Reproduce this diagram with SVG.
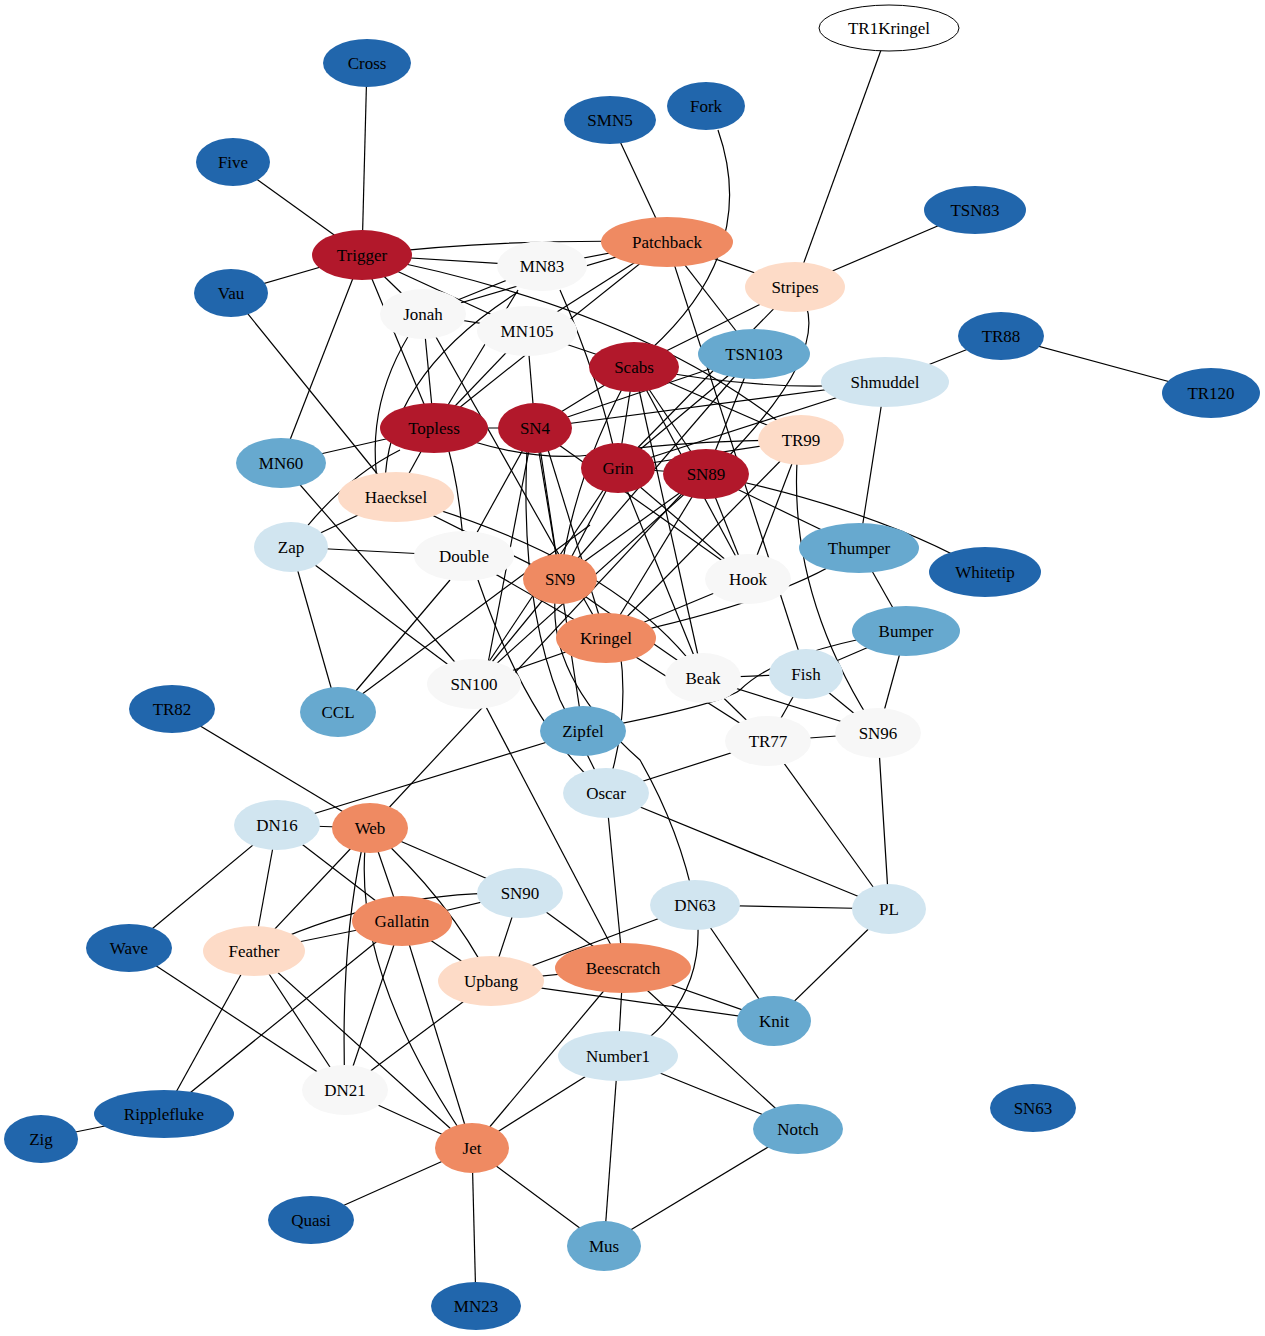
<svg xmlns="http://www.w3.org/2000/svg" width="1265" height="1336" viewBox="0 0 1265 1336">
<style>
.e line,.e path{stroke:#000;stroke-width:1.2;fill:none}
text{font-family:"Liberation Serif",serif;font-size:17px;text-anchor:middle;dominant-baseline:central;fill:#000}
.r{fill:#b2182b}.s{fill:#ef8a62}.p{fill:#fddbc7}.w{fill:#f7f7f7}.l{fill:#d1e5f0}.m{fill:#67a9cf}.d{fill:#2166ac}
</style>
<rect width="1265" height="1336" fill="#fff"/>
<g id="edges" class="e">
<line x1="367" y1="63" x2="362" y2="255"/><line x1="233" y1="162" x2="362" y2="255"/><line x1="231" y1="293" x2="362" y2="255"/>
<line x1="231" y1="293" x2="396" y2="497"/><line x1="610" y1="120" x2="667" y2="242"/>
<path d="M718,130 Q760,250 650,350"/>
<line x1="889" y1="28" x2="795" y2="287"/><line x1="975" y1="210" x2="795" y2="287"/>
<line x1="1001" y1="336" x2="885" y2="382"/><line x1="1001" y1="336" x2="1211" y2="393"/>
<path d="M362,255 Q500,238 667,242"/><line x1="362" y1="255" x2="542" y2="266"/><line x1="362" y1="255" x2="423" y2="314"/>
<line x1="362" y1="255" x2="527" y2="331"/><path d="M362,255 Q650,310 801,440"/>
<line x1="362" y1="255" x2="281" y2="463"/><line x1="362" y1="255" x2="434" y2="428"/>
<path d="M423,314 Q360,400 380,497"/><path d="M518,292 Q380,380 385,497"/><line x1="518" y1="290" x2="434" y2="428"/>
<line x1="423" y1="314" x2="434" y2="428"/><line x1="423" y1="314" x2="542" y2="266"/><line x1="423" y1="314" x2="667" y2="242"/>
<line x1="423" y1="314" x2="527" y2="331"/><line x1="423" y1="314" x2="606" y2="638"/>
<line x1="542" y1="266" x2="667" y2="242"/><path d="M560,290 Q600,380 618,468"/>
<line x1="527" y1="331" x2="667" y2="242"/><line x1="527" y1="331" x2="634" y2="367"/><line x1="527" y1="331" x2="535" y2="428"/><line x1="527" y1="331" x2="434" y2="428"/>
<line x1="667" y1="242" x2="434" y2="428"/><line x1="667" y1="242" x2="795" y2="287"/><line x1="667" y1="242" x2="754" y2="354"/><line x1="667" y1="242" x2="806" y2="674"/>
<line x1="795" y1="287" x2="634" y2="367"/><line x1="795" y1="287" x2="618" y2="468"/><path d="M806,305 Q825,360 720,465"/>
<line x1="634" y1="367" x2="535" y2="428"/><line x1="634" y1="367" x2="618" y2="468"/><path d="M634,367 Q575,470 560,579"/>
<line x1="634" y1="367" x2="706" y2="474"/><line x1="634" y1="367" x2="801" y2="440"/><path d="M634,367 Q780,395 885,382"/>
<line x1="634" y1="367" x2="748" y2="579"/><line x1="634" y1="367" x2="703" y2="678"/>
<line x1="754" y1="354" x2="535" y2="428"/><line x1="754" y1="354" x2="618" y2="468"/><line x1="754" y1="354" x2="706" y2="474"/><line x1="754" y1="354" x2="560" y2="579"/>
<line x1="885" y1="382" x2="535" y2="428"/><line x1="885" y1="382" x2="618" y2="468"/><line x1="885" y1="382" x2="859" y2="548"/>
<path d="M434,428 Q540,470 620,450 Q700,440 801,440"/><line x1="618" y1="468" x2="801" y2="440"/>
<line x1="801" y1="440" x2="748" y2="579"/><line x1="801" y1="440" x2="606" y2="638"/><path d="M797,462 Q790,600 878,733"/>
<line x1="618" y1="468" x2="706" y2="474"/><line x1="706" y1="474" x2="748" y2="579"/><line x1="706" y1="474" x2="859" y2="548"/>
<path d="M706,474 Q880,510 985,572"/><line x1="706" y1="474" x2="606" y2="638"/><line x1="700" y1="480" x2="474" y2="684"/>
<line x1="690" y1="485" x2="370" y2="828"/><line x1="706" y1="474" x2="560" y2="579"/>
<line x1="618" y1="468" x2="560" y2="579"/><line x1="618" y1="468" x2="703" y2="678"/><line x1="618" y1="468" x2="748" y2="579"/><line x1="618" y1="468" x2="474" y2="684"/>
<line x1="590" y1="525" x2="338" y2="712"/>
<line x1="535" y1="428" x2="434" y2="428"/><line x1="535" y1="428" x2="464" y2="556"/><line x1="530" y1="445" x2="484" y2="684"/>
<line x1="540" y1="448" x2="583" y2="731"/><path d="M527,450 Q520,600 560,700 Q590,760 606,793"/><line x1="535" y1="428" x2="560" y2="579"/>
<line x1="535" y1="428" x2="748" y2="579"/><line x1="545" y1="440" x2="606" y2="638"/>
<path d="M555,600 Q550,680 640,760 Q680,830 695,905"/>
<line x1="434" y1="428" x2="281" y2="463"/><line x1="434" y1="428" x2="396" y2="497"/><path d="M400,450 Q340,480 291,547"/><path d="M442,428 Q460,480 464,556"/>
<line x1="396" y1="497" x2="291" y2="547"/><line x1="396" y1="497" x2="560" y2="579"/><path d="M396,497 Q620,560 703,678"/>
<line x1="281" y1="463" x2="474" y2="684"/>
<line x1="291" y1="547" x2="464" y2="556"/><line x1="291" y1="547" x2="474" y2="684"/><line x1="291" y1="547" x2="338" y2="712"/>
<line x1="450" y1="580" x2="338" y2="712"/><line x1="464" y1="556" x2="606" y2="638"/><path d="M478,580 Q530,730 606,793"/>
<line x1="474" y1="684" x2="623" y2="968"/><line x1="560" y1="579" x2="474" y2="684"/><line x1="560" y1="579" x2="703" y2="678"/>
<line x1="606" y1="638" x2="474" y2="684"/><line x1="606" y1="638" x2="748" y2="579"/><path d="M606,638 Q790,600 859,548"/>
<line x1="606" y1="638" x2="768" y2="741"/><path d="M620,650 Q630,720 606,793"/>
<line x1="703" y1="678" x2="806" y2="674"/><line x1="703" y1="678" x2="878" y2="733"/><line x1="703" y1="678" x2="768" y2="741"/>
<line x1="806" y1="674" x2="906" y2="631"/><line x1="806" y1="674" x2="878" y2="733"/><line x1="806" y1="674" x2="768" y2="741"/>
<line x1="859" y1="548" x2="906" y2="631"/><line x1="906" y1="631" x2="878" y2="733"/>
<path d="M583,731 Q720,705 740,690 Q780,650 906,631"/>
<line x1="768" y1="741" x2="878" y2="733"/><line x1="768" y1="741" x2="606" y2="793"/><line x1="768" y1="741" x2="889" y2="909"/>
<line x1="878" y1="733" x2="889" y2="909"/><line x1="606" y1="793" x2="889" y2="909"/><line x1="606" y1="793" x2="623" y2="968"/>
<line x1="583" y1="731" x2="277" y2="825"/><line x1="172" y1="709" x2="370" y2="828"/>
<line x1="277" y1="825" x2="370" y2="828"/><line x1="277" y1="825" x2="129" y2="948"/><line x1="277" y1="825" x2="254" y2="951"/><line x1="277" y1="825" x2="402" y2="921"/>
<line x1="370" y1="828" x2="254" y2="951"/><line x1="370" y1="828" x2="402" y2="921"/><line x1="370" y1="828" x2="520" y2="893"/><path d="M370,828 Q450,900 491,981"/>
<path d="M362,848 Q340,950 345,1090"/><path d="M365,848 Q355,980 472,1148"/>
<path d="M520,893 Q380,890 254,951"/><line x1="520" y1="893" x2="402" y2="921"/><line x1="520" y1="893" x2="491" y2="981"/><line x1="520" y1="893" x2="623" y2="968"/>
<line x1="254" y1="951" x2="402" y2="921"/><line x1="254" y1="951" x2="164" y2="1114"/><line x1="254" y1="951" x2="345" y2="1090"/><line x1="254" y1="951" x2="472" y2="1148"/>
<line x1="402" y1="921" x2="164" y2="1114"/><line x1="402" y1="921" x2="491" y2="981"/><line x1="402" y1="921" x2="345" y2="1090"/><line x1="402" y1="921" x2="472" y2="1148"/>
<line x1="129" y1="948" x2="345" y2="1090"/><line x1="491" y1="981" x2="345" y2="1090"/><line x1="491" y1="981" x2="623" y2="968"/>
<line x1="491" y1="981" x2="774" y2="1021"/><line x1="491" y1="981" x2="695" y2="905"/>
<line x1="623" y1="968" x2="774" y2="1021"/><line x1="623" y1="968" x2="472" y2="1148"/><line x1="623" y1="968" x2="618" y2="1056"/><line x1="623" y1="968" x2="798" y2="1129"/>
<line x1="695" y1="905" x2="889" y2="909"/><line x1="695" y1="905" x2="774" y2="1021"/><path d="M698,928 Q700,1000 640,1045"/>
<line x1="618" y1="1056" x2="472" y2="1148"/><line x1="618" y1="1056" x2="798" y2="1129"/><line x1="618" y1="1056" x2="604" y2="1246"/>
<line x1="798" y1="1129" x2="604" y2="1246"/><line x1="472" y1="1148" x2="345" y2="1090"/><line x1="472" y1="1148" x2="311" y2="1220"/>
<line x1="472" y1="1148" x2="476" y2="1306"/><line x1="472" y1="1148" x2="604" y2="1246"/><line x1="889" y1="909" x2="774" y2="1021"/>
<line x1="41" y1="1139" x2="164" y2="1114"/>
</g>
<g id="TR1Kringel"><ellipse cx="889" cy="28" rx="70" ry="23" fill="#fff" stroke="#000"/><text x="889" y="28">TR1Kringel</text></g>
<g id="Cross"><ellipse class="d" cx="367" cy="63" rx="44" ry="24"/><text x="367" y="63">Cross</text></g>
<g id="Fork"><ellipse class="d" cx="706" cy="106" rx="39" ry="24"/><text x="706" y="106">Fork</text></g>
<g id="SMN5"><ellipse class="d" cx="610" cy="120" rx="46" ry="24"/><text x="610" y="120">SMN5</text></g>
<g id="Five"><ellipse class="d" cx="233" cy="162" rx="37" ry="24"/><text x="233" y="162">Five</text></g>
<g id="TSN83"><ellipse class="d" cx="975" cy="210" rx="51" ry="24"/><text x="975" y="210">TSN83</text></g>
<g id="Trigger"><ellipse class="r" cx="362" cy="255" rx="50" ry="25"/><text x="362" y="255">Trigger</text></g>
<g id="Patchback"><ellipse class="s" cx="667" cy="242" rx="66" ry="25"/><text x="667" y="242">Patchback</text></g>
<g id="MN83"><ellipse class="w" cx="542" cy="266" rx="45" ry="25"/><text x="542" y="266">MN83</text></g>
<g id="Vau"><ellipse class="d" cx="231" cy="293" rx="37" ry="24"/><text x="231" y="293">Vau</text></g>
<g id="Stripes"><ellipse class="p" cx="795" cy="287" rx="50" ry="25"/><text x="795" y="287">Stripes</text></g>
<g id="Jonah"><ellipse class="w" cx="423" cy="314" rx="43" ry="25"/><text x="423" y="314">Jonah</text></g>
<g id="MN105"><ellipse class="w" cx="527" cy="331" rx="50" ry="25"/><text x="527" y="331">MN105</text></g>
<g id="TR88"><ellipse class="d" cx="1001" cy="336" rx="43" ry="24"/><text x="1001" y="336">TR88</text></g>
<g id="TSN103"><ellipse class="m" cx="754" cy="354" rx="56" ry="25"/><text x="754" y="354">TSN103</text></g>
<g id="Scabs"><ellipse class="r" cx="634" cy="367" rx="45" ry="25"/><text x="634" y="367">Scabs</text></g>
<g id="Shmuddel"><ellipse class="l" cx="885" cy="382" rx="64" ry="25"/><text x="885" y="382">Shmuddel</text></g>
<g id="TR120"><ellipse class="d" cx="1211" cy="393" rx="49" ry="25"/><text x="1211" y="393">TR120</text></g>
<g id="Topless"><ellipse class="r" cx="434" cy="428" rx="54" ry="25"/><text x="434" y="428">Topless</text></g>
<g id="SN4"><ellipse class="r" cx="535" cy="428" rx="37" ry="25"/><text x="535" y="428">SN4</text></g>
<g id="TR99"><ellipse class="p" cx="801" cy="440" rx="43" ry="25"/><text x="801" y="440">TR99</text></g>
<g id="MN60"><ellipse class="m" cx="281" cy="463" rx="45" ry="25"/><text x="281" y="463">MN60</text></g>
<g id="Grin"><ellipse class="r" cx="618" cy="468" rx="37" ry="25"/><text x="618" y="468">Grin</text></g>
<g id="SN89"><ellipse class="r" cx="706" cy="474" rx="43" ry="25"/><text x="706" y="474">SN89</text></g>
<g id="Haecksel"><ellipse class="p" cx="396" cy="497" rx="58" ry="25"/><text x="396" y="497">Haecksel</text></g>
<g id="Zap"><ellipse class="l" cx="291" cy="547" rx="37" ry="25"/><text x="291" y="547">Zap</text></g>
<g id="Double"><ellipse class="w" cx="464" cy="556" rx="50" ry="25"/><text x="464" y="556">Double</text></g>
<g id="Thumper"><ellipse class="m" cx="859" cy="548" rx="60" ry="25"/><text x="859" y="548">Thumper</text></g>
<g id="Whitetip"><ellipse class="d" cx="985" cy="572" rx="56" ry="25"/><text x="985" y="572">Whitetip</text></g>
<g id="SN9"><ellipse class="s" cx="560" cy="579" rx="37" ry="25"/><text x="560" y="579">SN9</text></g>
<g id="Hook"><ellipse class="w" cx="748" cy="579" rx="43" ry="25"/><text x="748" y="579">Hook</text></g>
<g id="Bumper"><ellipse class="m" cx="906" cy="631" rx="54" ry="25"/><text x="906" y="631">Bumper</text></g>
<g id="Kringel"><ellipse class="s" cx="606" cy="638" rx="50" ry="25"/><text x="606" y="638">Kringel</text></g>
<g id="Fish"><ellipse class="l" cx="806" cy="674" rx="37" ry="25"/><text x="806" y="674">Fish</text></g>
<g id="Beak"><ellipse class="w" cx="703" cy="678" rx="38" ry="25"/><text x="703" y="678">Beak</text></g>
<g id="SN100"><ellipse class="w" cx="474" cy="684" rx="47" ry="25"/><text x="474" y="684">SN100</text></g>
<g id="TR82"><ellipse class="d" cx="172" cy="709" rx="43" ry="24"/><text x="172" y="709">TR82</text></g>
<g id="CCL"><ellipse class="m" cx="338" cy="712" rx="38" ry="25"/><text x="338" y="712">CCL</text></g>
<g id="Zipfel"><ellipse class="m" cx="583" cy="731" rx="43" ry="25"/><text x="583" y="731">Zipfel</text></g>
<g id="SN96"><ellipse class="w" cx="878" cy="733" rx="43" ry="25"/><text x="878" y="733">SN96</text></g>
<g id="TR77"><ellipse class="w" cx="768" cy="741" rx="43" ry="25"/><text x="768" y="741">TR77</text></g>
<g id="Oscar"><ellipse class="l" cx="606" cy="793" rx="43" ry="25"/><text x="606" y="793">Oscar</text></g>
<g id="DN16"><ellipse class="l" cx="277" cy="825" rx="43" ry="25"/><text x="277" y="825">DN16</text></g>
<g id="Web"><ellipse class="s" cx="370" cy="828" rx="38" ry="25"/><text x="370" y="828">Web</text></g>
<g id="SN90"><ellipse class="l" cx="520" cy="893" rx="43" ry="25"/><text x="520" y="893">SN90</text></g>
<g id="DN63"><ellipse class="l" cx="695" cy="905" rx="45" ry="25"/><text x="695" y="905">DN63</text></g>
<g id="PL"><ellipse class="l" cx="889" cy="909" rx="37" ry="25"/><text x="889" y="909">PL</text></g>
<g id="Gallatin"><ellipse class="s" cx="402" cy="921" rx="50" ry="25"/><text x="402" y="921">Gallatin</text></g>
<g id="Wave"><ellipse class="d" cx="129" cy="948" rx="43" ry="24"/><text x="129" y="948">Wave</text></g>
<g id="Feather"><ellipse class="p" cx="254" cy="951" rx="51" ry="25"/><text x="254" y="951">Feather</text></g>
<g id="Beescratch"><ellipse class="s" cx="623" cy="968" rx="68" ry="25"/><text x="623" y="968">Beescratch</text></g>
<g id="Upbang"><ellipse class="p" cx="491" cy="981" rx="53" ry="25"/><text x="491" y="981">Upbang</text></g>
<g id="Knit"><ellipse class="m" cx="774" cy="1021" rx="37" ry="25"/><text x="774" y="1021">Knit</text></g>
<g id="Number1"><ellipse class="l" cx="618" cy="1056" rx="60" ry="25"/><text x="618" y="1056">Number1</text></g>
<g id="DN21"><ellipse class="w" cx="345" cy="1090" rx="43" ry="25"/><text x="345" y="1090">DN21</text></g>
<g id="SN63"><ellipse class="d" cx="1033" cy="1108" rx="43" ry="24"/><text x="1033" y="1108">SN63</text></g>
<g id="Ripplefluke"><ellipse class="d" cx="164" cy="1114" rx="70" ry="24"/><text x="164" y="1114">Ripplefluke</text></g>
<g id="Notch"><ellipse class="m" cx="798" cy="1129" rx="45" ry="25"/><text x="798" y="1129">Notch</text></g>
<g id="Zig"><ellipse class="d" cx="41" cy="1139" rx="37" ry="24"/><text x="41" y="1139">Zig</text></g>
<g id="Jet"><ellipse class="s" cx="472" cy="1148" rx="37" ry="25"/><text x="472" y="1148">Jet</text></g>
<g id="Quasi"><ellipse class="d" cx="311" cy="1220" rx="43" ry="24"/><text x="311" y="1220">Quasi</text></g>
<g id="Mus"><ellipse class="m" cx="604" cy="1246" rx="37" ry="25"/><text x="604" y="1246">Mus</text></g>
<g id="MN23"><ellipse class="d" cx="476" cy="1306" rx="45" ry="24"/><text x="476" y="1306">MN23</text></g>
</svg>
